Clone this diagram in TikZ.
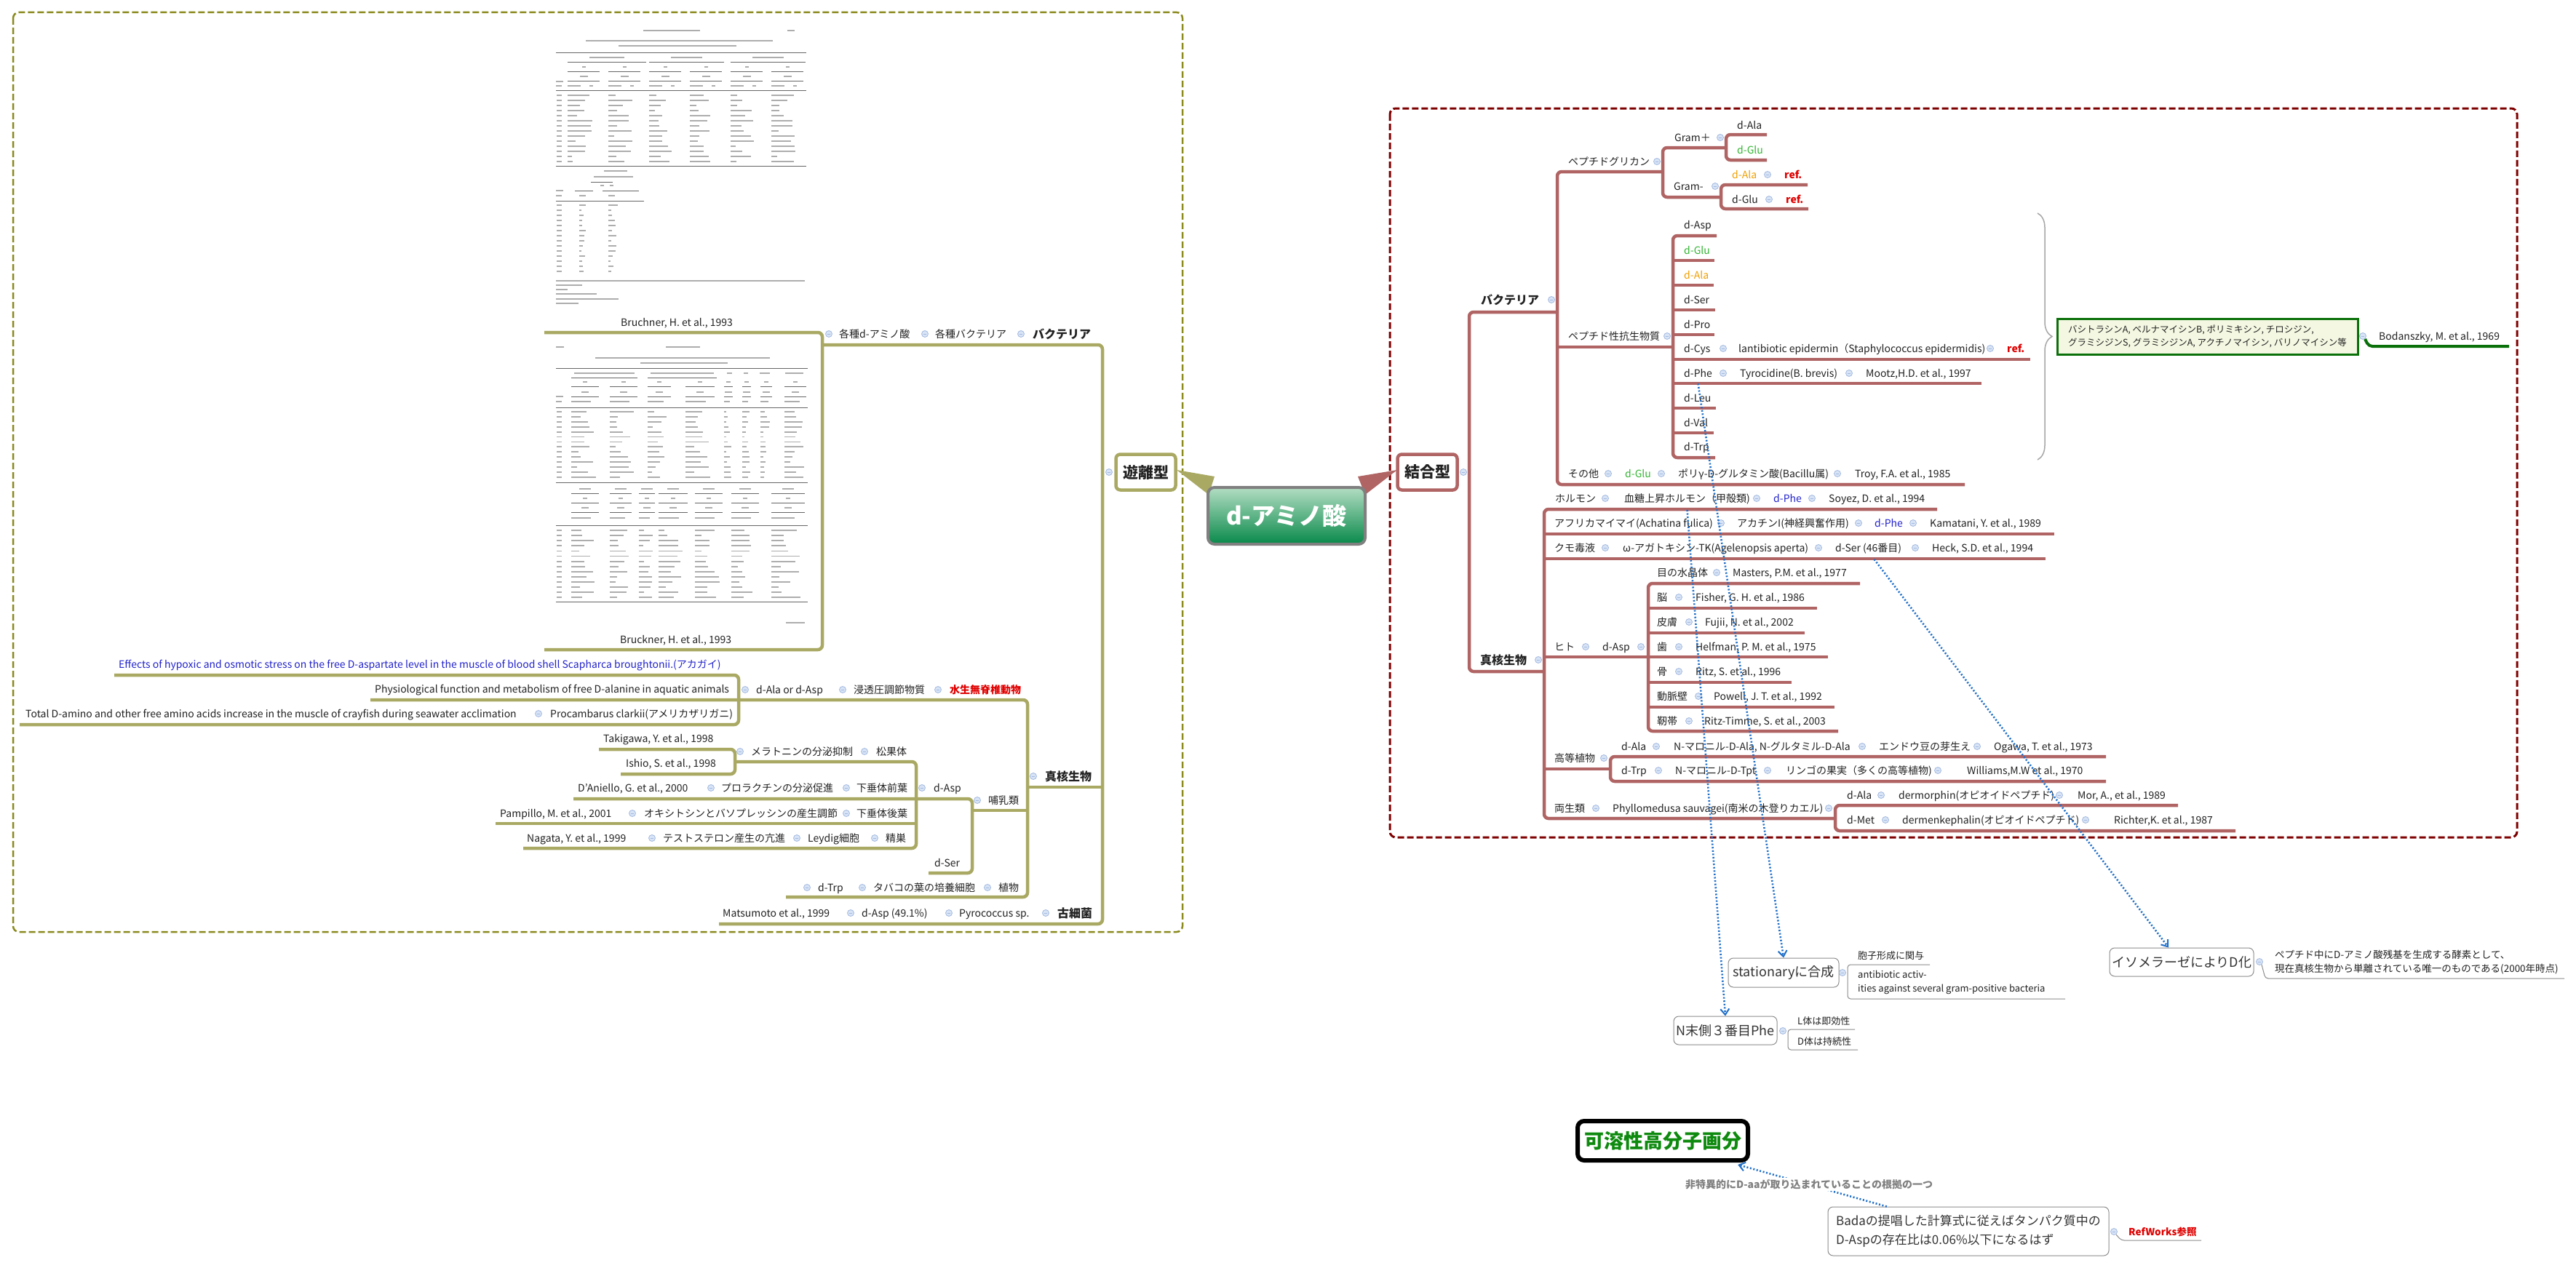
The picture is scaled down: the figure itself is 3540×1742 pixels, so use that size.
\documentclass[tikz,border=0pt]{standalone}
\usepackage{fontspec}
\setmainfont{Noto Sans CJK JP}
\usetikzlibrary{arrows.meta,calc,decorations.pathreplacing}
\definecolor{olv}{HTML}{A9A964}
\definecolor{olvd}{HTML}{8A8A1E}
\definecolor{rdl}{HTML}{B06464}
\definecolor{rdd}{HTML}{7E0000}
\definecolor{cf}{HTML}{D8E4F6}
\definecolor{cd}{HTML}{A3B9DF}
\definecolor{tx}{HTML}{222222}
\definecolor{gtx}{HTML}{33B533}
\definecolor{otx}{HTML}{F0A000}
\definecolor{btx}{HTML}{2323CC}
\definecolor{rtx}{HTML}{E00000}
\definecolor{arr}{HTML}{1F6FC8}
\definecolor{gbox}{HTML}{0A700A}
\definecolor{gboxf}{HTML}{F4F8E2}
\definecolor{cgt}{HTML}{B3DDC3}
\definecolor{cgb}{HTML}{08894A}
\definecolor{kgr}{HTML}{0E8A0E}
\newcommand\fsz[1]{\fontsize{#1}{#1}\selectfont}
\newcommand\mmT[5][]{\node[txt,#1] (#2) at (#3,#4+5) {#5};}
\newcommand\mmC[2]{\filldraw[fill=cf,draw=cd,line width=0.8pt] (#1,#2) circle (4.5pt);\draw[cd,line width=0.9pt] (#1-2.3,#2)--(#1+2.3,#2);}
\newcommand\tbar[3]{\fill[black!32] (#1,#3-0.9) rectangle (#2,#3+0.9);}
\tikzset{
 txt/.style={anchor=base west,inner sep=0pt,font=\fsz{14},text=tx},
 hd/.style={font=\fsz{16}\bfseries},
 rf/.style={text=rtx,font=\fsz{14}\bfseries},
 sm/.style={font=\fsz{13}},
 ol/.style={draw=olv,line width=4.5pt,rounded corners=6pt},
 rl/.style={draw=rdl,line width=4.5pt,rounded corners=6pt},
 thn/.style={draw=black!45,line width=1pt,rounded corners=4pt},
 trule/.style={draw=black!60,line width=0.5pt},
 rel/.style={draw=arr,line width=2.6pt,dash pattern=on 2pt off 2.6pt,-{Straight Barb[length=8pt,width=12pt,line width=2pt]}},
 fbox/.style={draw=black!45,line width=1pt,rounded corners=7pt,fill=white,inner sep=0pt,text=black!80},
 ml/.style={anchor=west,inner sep=0pt,align=left,text=tx},
}
\begin{document}
\begin{tikzpicture}[x=1pt,y=-1pt]
\useasboundingbox (0,0) rectangle (3540,1742);
\fill[white] (0,0) rectangle (3540,1742);
\pgfmathsetseed{7}
% boundaries
\draw[olvd,line width=2.5pt,dash pattern=on 9pt off 4pt,rounded corners=8pt] (18,17) rectangle (1625,1281);
\draw[rdd,line width=3pt,dash pattern=on 9pt off 4pt,rounded corners=8pt] (1910,149) rectangle (3459,1151);

% ---------------- table images ----------------
\tbar{884}{962}{42}\tbar{1082}{1092}{42}
\tbar{805}{1062}{56}\tbar{850}{1012}{63}
\draw[trule] (764,72)--(1108,72);
\foreach \a/\b in {780/888,892/995,1004/1107}{\tbar{\a+30}{\b-30}{79}\draw[trule] (\a,85)--(\b,85);}
\foreach \x in {780,836,892,948,1004,1060}{
 \tbar{\x+20}{\x+25}{92}\draw[trule] (\x,98)--(\x+44,98);
 \tbar{\x+17}{\x+28}{105}\draw[trule] (\x,111)--(\x+44,111);
 \tbar{\x}{\x+18}{118}\tbar{\x+30}{\x+35}{118}}
\tbar{764}{774}{112}\tbar{764}{772}{118}
\draw[trule,line width=0.8pt] (764,124)--(1108,124);
\foreach \r in {0,...,13}{\pgfmathsetmacro\yy{131+7*\r}\tbar{765}{772}{\yy}
 \foreach \x in {780,836,892,948,1004,1060}{\pgfmathsetmacro\w{6+28*rnd}\tbar{\x}{\x+\w}{\yy}}}
\draw[trule] (764,228)--(1108,228);
\tbar{830}{862}{235}\tbar{816}{870}{243}
\draw[trule] (812,250)--(842,250);
\tbar{825}{830}{255}\tbar{838}{843}{255}
\draw[trule] (790,262)--(815,262);\draw[trule] (828,262)--(878,262);
\tbar{764}{774}{262}\tbar{764}{772}{269}\tbar{796}{805}{269}\tbar{836}{845}{269}
\draw[trule] (764,276)--(885,276);
\foreach \r in {0,...,13}{\pgfmathsetmacro\yy{282+7*\r}\tbar{765}{772}{\yy}
 \pgfmathsetmacro\w{3+8*rnd}\tbar{796}{796+\w}{\yy}
 \pgfmathsetmacro\w{3+10*rnd}\tbar{836}{836+\w}{\yy}}
\tbar{764}{1106}{386}\tbar{764}{800}{392}\tbar{764}{780}{398}\tbar{764}{820}{404}\tbar{764}{850}{411}\tbar{764}{795}{417}
% bottom table
\tbar{764}{775}{477}\tbar{915}{962}{477}
\tbar{818}{1058}{492}\tbar{880}{1000}{499}
\draw[trule] (764,506)--(1110,506);
\foreach \a/\b in {785/876,890/985,995/1010,1018/1032,1040/1062,1075/1108}{\tbar{\a+4}{\b-4}{513}}
\draw[trule] (785,519)--(876,519);\draw[trule] (890,519)--(985,519);
\foreach \x/\w in {785/38,838/38,890/32,942/40,995/12,1020/12,1045/16,1078/30}{
 \tbar{\x+\w/2-3}{\x+\w/2+3}{525}\draw[trule] (\x,531)--(\x+\w,531);
 \tbar{\x+\w/2-5}{\x+\w/2+5}{539}\draw[trule] (\x,545)--(\x+\w,545);
 \tbar{\x}{\x+\w*0.7}{552}}
\tbar{764}{774}{545}\tbar{764}{772}{552}
\draw[trule,line width=0.8pt] (764,560)--(1110,560);
\foreach \r in {0,...,13}{\pgfmathsetmacro\yy{566+6.9*\r}\tbar{765}{772}{\yy}
 \foreach \x/\w in {785/38,838/38,890/32,942/40,995/12,1020/12,1045/16,1078/30}{\pgfmathsetmacro\v{\w*(0.2+0.7*rnd)}\tbar{\x}{\x+\v}{\yy}}}
\draw[trule] (764,663)--(1110,663);
\foreach \x/\w in {785/38,838/30,878/22,905/40,955/38,1005/38,1060/46}{
 \tbar{\x+\w/2-8}{\x+\w/2+8}{672}\draw[trule] (\x,678)--(\x+\w,678);
 \tbar{\x+\w/2-3}{\x+\w/2+3}{685}\draw[trule] (\x,691)--(\x+\w,691);
 \tbar{\x+\w/2-5}{\x+\w/2+5}{698}\draw[trule] (\x,704)--(\x+\w,704);
 \tbar{\x}{\x+\w*0.7}{712}}
\draw[trule,line width=0.8pt] (764,722)--(1110,722);
\foreach \r in {0,...,13}{\pgfmathsetmacro\yy{729+7.1*\r}\tbar{765}{772}{\yy}
 \foreach \x/\w in {785/38,838/30,878/22,905/40,955/38,1005/38,1060/46}{\pgfmathsetmacro\v{\w*(0.2+0.7*rnd)}\tbar{\x}{\x+\v}{\yy}}}
\draw[trule] (764,827)--(1110,827);
\tbar{1080}{1106}{856}

% ---------------- left tree lines ----------------
\draw[ol] (748,457) -- (1130,457) -- (1130,893) -- (748,893);
\draw[ol] (1130,474) -- (1515,474) -- (1515,1270) -- (988,1270);
\draw[ol] (1412,1082) -- (1515,1082);
\draw[ol] (509,962) -- (1412,962) -- (1412,1233) -- (1080,1233);
\draw[ol] (1336,1114) -- (1412,1114);
\draw[ol] (157,928) -- (1015,928) -- (1015,996) -- (27,996);
\draw[ol] (788,1098) -- (1336,1098) -- (1336,1200) -- (1276,1200);
\draw[ol] (1010,1047) -- (1259,1047) -- (1259,1166) -- (719,1166);
\draw[ol] (681,1132) -- (1259,1132);
\draw[ol] (823,1030) -- (1010,1030) -- (1010,1064) -- (853,1064);

% ---------------- right tree lines ----------------
\draw[rl] (2140,429) -- (2019,429) -- (2019,923) -- (2122,923);
\draw[rl] (2285,236) -- (2140,236) -- (2140,666) -- (2700,666);
\draw[rl] (2140,477) -- (2299,477);
\draw[rl] (2372,203) -- (2285,203) -- (2285,271) -- (2365,271);
\draw[rl] (2428,185) -- (2372,185) -- (2372,220) -- (2428,220);
\draw[rl] (2484,254) -- (2365,254) -- (2365,287) -- (2485,287);
\draw[rl] (2359,324) -- (2299,324) -- (2299,629) -- (2357,629);
\foreach \y/\e in {358/2356,392/2355,426/2357,460/2356,494/2790,527/2723,561/2358,595/2355} \draw[rl] (2299,\y) -- (\e,\y);
\draw[rl] (2662,700) -- (2122,700) -- (2122,1125) -- (2523,1125);
\draw[rl] (2122,734) -- (2823,734);
\draw[rl] (2122,768) -- (2811,768);
\draw[rl] (2122,903) -- (2512,903);
\draw[rl] (2122,1057) -- (2213,1057);
\draw[rl] (2556,802) -- (2265,802) -- (2265,1005) -- (2526,1005);
\foreach \y/\e in {836/2497,870/2480,938/2462,972/2521} \draw[rl] (2265,\y) -- (\e,\y);
\draw[rl] (2894,1040) -- (2213,1040) -- (2213,1074) -- (2894,1074);
\draw[rl] (2993,1107) -- (2522,1107) -- (2522,1142) -- (3072,1142);

% ---------------- central ----------------
\fill[olv] (1617,646) -- (1669,655) -- (1661,680) -- cycle;
\fill[rdl] (1920,646) -- (1866,655) -- (1876,680) -- cycle;
\node[draw=black!50,line width=4pt,rounded corners=9pt,top color=cgt,bottom color=cgb,minimum width=216pt,minimum height=78pt,font=\fsz{33}\bfseries,text=white] (root) at (1768,709) {d-アミノ酸};
\node[draw=olv,line width=4.5pt,rounded corners=6pt,fill=white,minimum width=82pt,minimum height=49pt,inner sep=0pt,font=\fsz{21}\bfseries,text=tx] (free) at (1574.5,649) {遊離型};
\node[draw=rdl,line width=4.5pt,rounded corners=6pt,fill=white,minimum width=82pt,minimum height=49pt,inner sep=0pt,font=\fsz{21}\bfseries,text=tx] (bound) at (1961.5,649) {結合型};
\mmC{1524}{649}\mmC{2011}{649}

% ---------------- left texts ----------------
\mmT{t1}{1153}{459}{各種d-アミノ酸}\mmC{1139}{459}
\mmT{t2}{1285}{459}{各種バクテリア}\mmC{1271}{459}
\mmT[hd]{t3}{1419}{460}{バクテリア}\mmC{1403}{459}
\mmT{t4}{853}{443}{Bruchner, H. et al., 1993}
\mmT{t5}{852}{879}{Bruckner, H. et al., 1993}
\mmT[text=btx]{t6}{163}{913}{Effects of hypoxic and osmotic stress on the free D-aspartate level in the muscle of blood shell Scapharca broughtonii.(アカガイ)}
\mmT{t7}{515}{947}{Physiological function and metabolism of free D-alanine in aquatic animals}
\mmT{t8}{35}{981}{Total D-amino and other free amino acids increase in the muscle of crayfish during seawater acclimation}\mmC{740}{981}
\mmT{t9}{756}{981}{Procambarus clarkii(アメリカザリガニ)}
\mmT{t10}{1039}{948}{d-Ala or d-Asp}\mmC{1024}{948}
\mmT{t11}{1173}{948}{浸透圧調節物質}\mmC{1158}{948}
\mmT[rf]{t12}{1305}{948}{水生無脊椎動物}\mmC{1289}{948}
\mmT{t13}{829}{1015}{Takigawa, Y. et al., 1998}
\mmT{t14}{860}{1049}{Ishio, S. et al., 1998}
\mmT{t15}{1032}{1033}{メラトニンの分泌抑制}\mmC{1017}{1033}
\mmT{t16}{1204}{1033}{松果体}\mmC{1188}{1033}
\mmT{t17}{794}{1083}{D'Aniello, G. et al., 2000}
\mmT{t18}{991}{1083}{プロラクチンの分泌促進}\mmC{977}{1083}
\mmT{t19}{1177}{1083}{下垂体前葉}\mmC{1163}{1083}
\mmT{t20}{1283}{1083}{d-Asp}\mmC{1267}{1083}
\mmT{t21}{687}{1118}{Pampillo, M. et al., 2001}\mmC{869}{1118}
\mmT{t22}{885}{1118}{オキシトシンとバソプレッシンの産生調節}\mmC{1163}{1118}
\mmT{t23}{1177}{1118}{下垂体後葉}
\mmT{t24}{724}{1152}{Nagata, Y. et al., 1999}\mmC{896}{1152}
\mmT{t25}{911}{1152}{テストステロン産生の亢進}\mmC{1095}{1152}
\mmT{t26}{1110}{1152}{Leydig細胞}\mmC{1202}{1152}
\mmT{t27}{1217}{1152}{精巣}
\mmT{t28}{1284}{1186}{d-Ser}
\mmT{t29}{1358}{1100}{哺乳類}\mmC{1343}{1100}
\mmT[hd]{t30}{1436}{1068}{真核生物}\mmC{1420}{1067}
\mmT{t31}{1124}{1220}{d-Trp}\mmC{1109}{1220}
\mmT{t32}{1200}{1220}{タバコの葉の培養細胞}\mmC{1185}{1220}
\mmT{t33}{1372}{1220}{植物}\mmC{1357}{1220}
\mmT{t34}{993}{1255}{Matsumoto et al., 1999}\mmC{1169}{1255}
\mmT{t35}{1184}{1255}{d-Asp (49.1\%)}\mmC{1304}{1255}
\mmT{t36}{1318}{1255}{Pyrococcus sp.}\mmC{1437}{1255}
\mmT[hd]{t37}{1453}{1256}{古細菌}

% ---------------- right texts ----------------
\mmT[hd]{rBac}{2035}{413}{バクテリア}\mmC{2132}{412}
\mmT{rPg}{2155}{222}{ペプチドグリカン}\mmC{2277}{222}
\mmT{rGp}{2301}{189}{Gram＋}\mmC{2364}{189}
\mmT{rGpA}{2387}{172}{d-Ala}
\mmT[text=gtx]{rGpG}{2387}{206}{d-Glu}
\mmT{rGm}{2300}{256}{Gram-}\mmC{2357}{256}
\mmT[text=otx]{rGmA}{2380}{240}{d-Ala}\mmC{2429}{240}
\mmT[rf]{rGmAr}{2452}{240}{ref.}
\mmT{rGmG}{2380}{274}{d-Glu}\mmC{2431}{274}
\mmT[rf]{rGmGr}{2454}{274}{ref.}
\mmT{rPa}{2155}{462}{ペプチド性抗生物質}\mmC{2291}{462}
\mmT{rA1}{2314}{309}{d-Asp}
\mmT[text=gtx]{rA2}{2314}{344}{d-Glu}
\mmT[text=otx]{rA3}{2314}{378}{d-Ala}
\mmT{rA4}{2314}{412}{d-Ser}
\mmT{rA5}{2314}{446}{d-Pro}
\mmT{rA6}{2314}{479}{d-Cys}\mmC{2368}{479}
\mmT{rA6b}{2389}{479}{lantibiotic epidermin（Staphylococcus epidermidis)}\mmC{2735}{479}
\mmT[rf]{rA6c}{2758}{479}{ref.}
\mmT{rA7}{2314}{513}{d-Phe}\mmC{2368}{513}
\mmT{rA7b}{2391}{513}{Tyrocidine(B. brevis)}\mmC{2541}{513}
\mmT{rA7c}{2564}{513}{Mootz,H.D. et al., 1997}
\mmT{rA8}{2314}{547}{d-Leu}
\mmT{rA9}{2314}{581}{d-Val}
\mmT{rA10}{2314}{614}{d-Trp}
\mmT{rOt}{2155}{651}{その他}\mmC{2210}{651}
\mmT[text=gtx]{rOt2}{2233}{651}{d-Glu}\mmC{2283}{651}
\mmT{rOt3}{2306}{651}{ポリγ-D-グルタミン酸(Bacillu属)}\mmC{2525}{651}
\mmT{rOt4}{2549}{651}{Troy, F.A. et al., 1985}
\draw[gray!70,line width=1.5pt,decorate,decoration={brace,amplitude=20pt}] (2800,293) -- (2800,632);
\node[draw=gbox,line width=3pt,fill=gboxf,minimum width=413pt,minimum height=49pt,align=left,font=\fontsize{12.5}{18}\selectfont,inner sep=4pt,text=tx] (gb) at (3033.5,462.5) {バシトラシンA, ベルナマイシンB, ポリミキシン, チロシジン,\\グラミシジンS, グラミシジンA, アクチノマイシン, バリノマイシン等};
\draw[gbox,line width=4pt,rounded corners=5pt] (3250,466) -- (3255,476) -- (3448,476);
\mmC{3247}{462}
\mmT{bd}{3269}{462}{Bodanszky, M. et al., 1969}

\mmT[hd]{rEu}{2034}{908}{真核生物}\mmC{2114}{907}
\mmT{rH1}{2137}{685}{ホルモン}\mmC{2206}{685}
\mmT{rH2}{2232}{685}{血糖上昇ホルモン（甲殻類)}\mmC{2414}{685}
\mmT[text=btx]{rH3}{2437}{685}{d-Phe}\mmC{2490}{685}
\mmT{rH4}{2513}{685}{Soyez, D. et al., 1994}
\mmT{rF1}{2136}{719}{アフリカマイマイ(Achatina fulica)}\mmC{2365}{719}
\mmT{rF2}{2387}{719}{アカチンI(神経興奮作用)}\mmC{2554}{719}
\mmT[text=btx]{rF3}{2576}{719}{d-Phe}\mmC{2629}{719}
\mmT{rF4}{2652}{719}{Kamatani, Y. et al., 1989}
\mmT{rS1}{2136}{753}{クモ毒液}\mmC{2206}{753}
\mmT{rS2}{2230}{753}{ω-アガトキシン-TK(Agelenopsis aperta)}\mmC{2499}{753}
\mmT{rS3}{2522}{753}{d-Ser (46番目)}\mmC{2632}{753}
\mmT{rS4}{2655}{753}{Heck, S.D. et al., 1994}
\mmT{rHu}{2136}{889}{ヒト}\mmC{2179}{889}
\mmT{rHu2}{2202}{889}{d-Asp}\mmC{2255}{889}
\mmT{rM1}{2277}{787}{目の水晶体}\mmC{2359}{787}
\mmT{rM1b}{2381}{787}{Masters, P.M. et al., 1977}
\mmT{rM2}{2277}{821}{脳}\mmC{2307}{821}
\mmT{rM2b}{2330}{821}{Fisher, G. H. et al., 1986}
\mmT{rM3}{2277}{855}{皮膚}\mmC{2321}{855}
\mmT{rM3b}{2343}{855}{Fujii, N. et al., 2002}
\mmT{rM4}{2277}{889}{歯}\mmC{2307}{889}
\mmT{rM4b}{2330}{889}{Helfman, P. M. et al., 1975}
\mmT{rM5}{2277}{923}{骨}\mmC{2307}{923}
\mmT{rM5b}{2330}{923}{Ritz, S. et al., 1996}
\mmT{rM6}{2277}{957}{動脈壁}\mmC{2334}{957}
\mmT{rM6b}{2355}{957}{Powell, J. T. et al., 1992}
\mmT{rM7}{2277}{991}{靭帯}\mmC{2321}{991}
\mmT{rM7b}{2342}{991}{Ritz-Timme, S. et al., 2003}
\mmT{rP}{2136}{1042}{高等植物}\mmC{2204}{1042}
\mmT{rP1}{2228}{1026}{d-Ala}\mmC{2276}{1026}
\mmT{rP1b}{2300}{1026}{N-マロニル-D-Ala, N-グルタミル-D-Ala}\mmC{2559}{1026}
\mmT{rP1c}{2582}{1026}{エンドウ豆の芽生え}\mmC{2717}{1026}
\mmT{rP1d}{2740}{1026}{Ogawa, T. et al., 1973}
\mmT{rP2}{2228}{1059}{d-Trp}\mmC{2279}{1059}
\mmT{rP2b}{2302}{1059}{N-マロニル-D-Tpt}\mmC{2429}{1059}
\mmT{rP2c}{2454}{1059}{リンゴの果実（多くの高等植物)}\mmC{2663}{1059}
\mmT{rP2d}{2703}{1059}{Williams,M.W et al., 1970}
\mmT{rQ}{2136}{1111}{両生類}\mmC{2193}{1111}
\mmT{rQb}{2216}{1111}{Phyllomedusa sauvagei(南米の木登りカエル)}\mmC{2513}{1111}
\mmT{rQ1}{2538}{1093}{d-Ala}\mmC{2585}{1093}
\mmT{rQ1b}{2609}{1093}{dermorphin(オピオイドペプチド)}\mmC{2830}{1093}
\mmT{rQ1c}{2855}{1093}{Mor, A., et al., 1989}
\mmT{rQ2}{2538}{1127}{d-Met}\mmC{2591}{1127}
\mmT{rQ2b}{2614}{1127}{dermenkephalin(オピオイドペプチド)}\mmC{2866}{1127}
\mmT{rQ2c}{2905}{1127}{Richter,K. et al., 1987}

% ---------------- floating topics ----------------
\node[fbox,minimum width=152pt,minimum height=40pt,font=\fsz{18}] (stat) at (2451,1337) {stationaryに合成};
\node[fbox,minimum width=142pt,minimum height=39pt,font=\fsz{18}] (nphe) at (2371,1416.5) {N末側３番目Phe};
\node[fbox,minimum width=198pt,minimum height=39pt,font=\fsz{18}] (isom) at (2998,1322.5) {イソメラーゼによりD化};
\node[fbox,minimum width=386pt,minimum height=67pt,align=left,font=\fontsize{17}{26}\selectfont] (bada) at (2705,1692.5) {Badaの提唱した計算式に従えばタンパク質中の\\D-Aspの存在比は0.06\%以下になるはず};
\node[draw=black,line width=6pt,rounded corners=9pt,fill=white,minimum width=234pt,minimum height=54pt,inner sep=0pt,font=\fsz{27}\bfseries,text=kgr] (kayo) at (2285,1568) {可溶性高分子画分};

\draw[thn] (2652,1326) -- (2539,1326) -- (2539,1373) -- (2838,1373);
\mmC{2532}{1337}
\mmT[sm]{s1}{2553}{1313}{胞子形成に関与}
\node[ml,font=\fontsize{13}{19}\selectfont] (s2) at (2553,1350.5) {antibiotic activ-\\ities against several gram-positive bacteria};
\draw[thn] (2549,1415) -- (2457,1415) -- (2457,1443) -- (2553,1443);
\mmC{2450}{1417}
\mmT[sm]{n1}{2470}{1403}{L体は即効性}
\mmT[sm]{n2}{2470}{1431}{D体は持続性}
\draw[thn] (3108,1326) -- (3113,1345) -- (3524,1345);
\mmC{3105}{1322}
\node[ml,font=\fontsize{13.5}{19}\selectfont] (i1) at (3126,1322.5) {ペプチド中にD-アミノ酸残基を生成する酵素として、\\現在真核生物から単離されている唯一のものである(2000年時点)};
\draw[thn] (2908,1697) -- (2915,1705) -- (3025,1705);
\mmC{2905}{1693}
\mmT[font=\fsz{13.5}\bfseries,text=rtx]{rw}{2925}{1693}{RefWorks参照}

% ---------------- relationships ----------------
\draw[rel] ($(rA7.south)+(0,9)$) -- (stat.north);
\draw[rel] ($(rH2.south)+(0,8)$) -- (nphe.north);
\draw[rel] ($(rS3.south)+(8,8)$) -- ($(isom.north west)!0.41!(isom.north east)$);
\draw[rel] ($(bada.north west)!0.21!(bada.north east)$) -- ($(kayo.south west)!0.93!(kayo.south east)+(0,3)$);
\node[fill=white,inner sep=2pt,font=\fsz{14}\bfseries,text=black!50] (lbl) at (2486,1628) {非特異的にD-aaが取り込まれていることの根拠の一つ};
\end{tikzpicture}
\end{document}
